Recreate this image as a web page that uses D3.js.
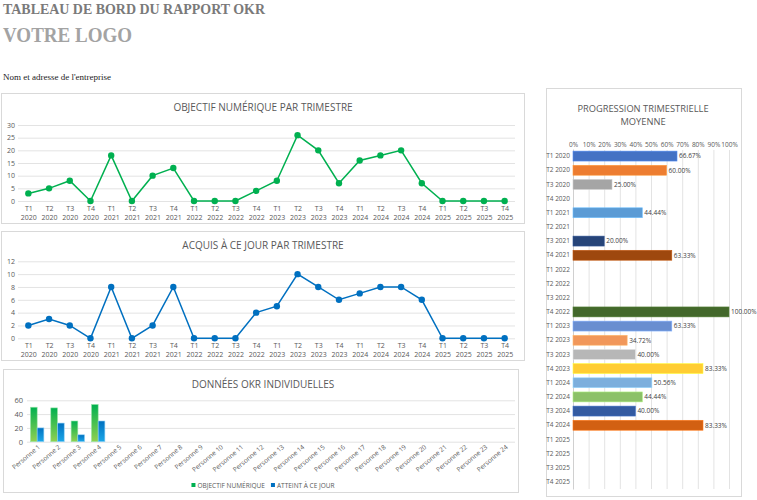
<!DOCTYPE html>
<html><head><meta charset="utf-8">
<script src="https://cdn.jsdelivr.net/npm/d3@7"></script>
<style>
body{margin:0;background:#fff;}
svg{display:block;}
text{font-family:"Open Sans",sans-serif;}
</style>
</head><body>
<svg id="c" width="757" height="500"></svg>
<script>
// ---------------- DATA ----------------
const quarters = ["T1 2020","T2 2020","T3 2020","T4 2020","T1 2021","T2 2021","T3 2021","T4 2021",
  "T1 2022","T2 2022","T3 2022","T4 2022","T1 2023","T2 2023","T3 2023","T4 2023",
  "T1 2024","T2 2024","T3 2024","T4 2024","T1 2025","T2 2025","T3 2025","T4 2025"];
const objectifNumerique = [3,5,8,0,18,0,10,13,0,0,0,4,8,26,20,7,16,18,20,7,0,0,0,0];
const acquisACeJour = [2,3,2,0,8,0,2,8,0,0,0,4,5,10,8,6,7,8,8,6,0,0,0,0];
const objTicks = [0,5,10,15,20,25,30];
const acqTicks = [0,2,4,6,8,10,12];

const personnes = d3.range(1,25).map(i => "Personne " + i);
const persObjectif = [50,49,30,54,0,0,0,0,0,0,0,0,0,0,0,0,0,0,0,0,0,0,0,0];
const persAtteint = [20,27,10,30,0,0,0,0,0,0,0,0,0,0,0,0,0,0,0,0,0,0,0,0];
const persTicks = [0,20,40,60];
const seriesNames = ["OBJECTIF NUMÉRIQUE","ATTEINT À CE JOUR"];

const progression = [66.67,60.00,25.00,null,44.44,null,20.00,63.33,null,null,null,100.00,
  63.33,34.72,40.00,83.33,50.56,44.44,40.00,83.33,null,null,null,null];
const pctTicks = [0,10,20,30,40,50,60,70,80,90,100];

// Excel office palette (cycled per category)
const barColors = ["#4472C4","#ED7D31","#A5A5A5","#FFC000","#5B9BD5","#70AD47","#264478","#9E480E",
  "#636363","#997300","#255E91","#43682B","#698ED0","#F1975A","#B7B7B7","#FFCD33",
  "#7CAFDD","#8CC168","#335AA1","#D26012","#A5A5A5","#FFC000","#5B9BD5","#70AD47"];

// ---------------- DRAW ----------------
const svg = d3.select("#c");
const txt = "#595959", grid = "#e3e3e3", border = "#d9d9d9";

// Header
svg.append("text").attr("x",3).attr("y",14).text("TABLEAU DE BORD DU RAPPORT OKR")
  .attr("textLength",262).attr("lengthAdjust","spacingAndGlyphs")
  .style("font-family","'Liberation Serif',serif").style("font-weight","bold")
  .style("font-size","15px").attr("fill","#7a7a7a");
svg.append("text").attr("x",3).attr("y",42).text("VOTRE LOGO")
  .attr("textLength",129).attr("lengthAdjust","spacingAndGlyphs")
  .style("font-family","'Liberation Serif',serif").style("font-weight","bold")
  .style("font-size","21px").attr("fill","#a3a3a3");
svg.append("text").attr("x",3).attr("y",80).text("Nom et adresse de l'entreprise")
  .style("font-family","'Liberation Serif',serif").style("font-size","9px").attr("fill","#222");

// panel boxes
function box(x,y,w,h){
  svg.append("rect").attr("x",x+0.5).attr("y",y+0.5).attr("width",w).attr("height",h)
    .attr("fill","#fff").attr("stroke",border).attr("stroke-width",1);
}
box(1,93,523,130);
box(1,231,523,129);
box(3,369,515,123);
box(546,88,195,408);

function title(x,y,t,size){
  svg.append("text").attr("x",x).attr("y",y).attr("text-anchor","middle")
    .style("font-size",(size||10)+"px").attr("fill",txt).text(t);
}

// Line charts
const xPt = d3.scalePoint().domain(quarters).range([18,515]).padding(0.5);

function lineChart(cfg){
  title(263,cfg.titleY,cfg.title);
  const y = d3.scaleLinear().domain([cfg.ticks[0],cfg.ticks[cfg.ticks.length-1]]).range(cfg.yRange);
  const g = svg.append("g").attr("transform","translate(18,0)");
  g.call(d3.axisLeft(y).tickValues(cfg.ticks).tickSize(-497).tickPadding(3));
  g.select(".domain").remove();
  g.selectAll(".tick line").attr("stroke",grid);
  g.selectAll(".tick text").attr("fill",txt).style("font-size","7px").style("font-family","'Open Sans',sans-serif");
  const gx = svg.append("g").attr("transform",`translate(0,${cfg.yRange[0]})`);
  gx.call(d3.axisBottom(xPt).tickSize(0).tickPadding(0));
  gx.select(".domain").remove();
  gx.selectAll(".tick text").each(function(d){
    const t = d3.select(this).text(null).attr("fill",txt).style("font-size","7px")
      .style("font-family","'Open Sans',sans-serif").attr("y",0).attr("dy",null);
    const p = d.split(" ");
    t.append("tspan").attr("x",0).attr("y",cfg.lab1).text(p[0]);
    t.append("tspan").attr("x",0).attr("y",cfg.lab2).text(p[1]);
  });
  const line = d3.line().x((d,i)=>xPt(quarters[i])).y(d=>y(d));
  svg.append("path").datum(cfg.values).attr("d",line).attr("fill","none")
    .attr("stroke",cfg.color).attr("stroke-width",1.5);
  svg.append("g").selectAll("circle").data(cfg.values).join("circle")
    .attr("cx",(d,i)=>xPt(quarters[i])).attr("cy",d=>y(d)).attr("r",3.2).attr("fill",cfg.color);
}
lineChart({title:"OBJECTIF NUMÉRIQUE PAR TRIMESTRE",titleY:111,ticks:objTicks,yRange:[201,125],
  values:objectifNumerique,color:"#00B050",lab1:10,lab2:19});
lineChart({title:"ACQUIS À CE JOUR PAR TRIMESTRE",titleY:249,ticks:acqTicks,yRange:[338.3,261.3],
  values:acquisACeJour,color:"#0070C0",lab1:10,lab2:19});

// Individual bars
title(263,388,"DONNÉES OKR INDIVIDUELLES");
const defs = svg.append("defs");
function grad(id,top,bot){
  const lg = defs.append("linearGradient").attr("id",id).attr("x1",0).attr("y1",0).attr("x2",0).attr("y2",1);
  lg.append("stop").attr("offset","0%").attr("stop-color",top);
  lg.append("stop").attr("offset","100%").attr("stop-color",bot);
}
grad("gG","#00B050","#92D050");
grad("gB","#0070C0","#1AA7E8");
const xb = d3.scaleBand().domain(personnes).range([27,515]);
const xs = d3.scaleBand().domain(seriesNames).range([xb.bandwidth()*0.17, xb.bandwidth()*0.83]);
const yb = d3.scaleLinear().domain([0,60]).range([441.7,400.3]);
const gb = svg.append("g").attr("transform","translate(27,0)");
gb.call(d3.axisLeft(yb).tickValues(persTicks).tickSize(-488).tickPadding(4));
gb.select(".domain").remove();
gb.selectAll(".tick line").attr("stroke",grid);
gb.selectAll(".tick text").attr("fill",txt).style("font-size","7.5px").style("font-family","'Open Sans',sans-serif");
const seriesData = [persObjectif, persAtteint];
const fills = ["url(#gG)","url(#gB)"];
const strokes = ["#9be6a8","#8fd0f5"];
seriesData.forEach((vals,si)=>{
  svg.append("g").selectAll("rect").data(vals.map((v,i)=>({v,p:personnes[i]})).filter(d=>d.v>0)).join("rect")
    .attr("x",d=>xb(d.p)+xs(seriesNames[si])).attr("width",xs.bandwidth())
    .attr("y",d=>yb(d.v)).attr("height",d=>yb(0)-yb(d.v))
    .attr("fill",fills[si]).attr("stroke",strokes[si]).attr("stroke-width",0.6);
});
svg.append("g").selectAll("text").data(personnes).join("text")
  .attr("transform",d=>`translate(${xb(d)+xb.bandwidth()/2+2},446) rotate(-40)`)
  .attr("text-anchor","end").attr("dy","0.35em").style("font-size","6.5px").attr("fill",txt).text(d=>d);
// legend
const lgG = svg.append("g");
let lx = 0;
const legColors = ["#00B050","#0070C0"];
seriesNames.forEach((n,i)=>{
  lgG.append("rect").attr("x",lx).attr("y",-2.5).attr("width",4).attr("height",4).attr("fill",legColors[i]);
  const t = lgG.append("text").attr("x",lx+6).attr("y",0).attr("dy","0.35em")
    .style("font-size","6.5px").attr("fill",txt).text(n);
  lx += 6 + t.node().getComputedTextLength() + 6;
});
lgG.attr("transform",`translate(${263-(lx-6)/2},485.5)`);

// Progression chart
svg.append("text").attr("x",643).attr("y",111.5).attr("text-anchor","middle")
  .style("font-size","9.3px").attr("fill",txt).text("PROGRESSION TRIMESTRIELLE");
svg.append("text").attr("x",643).attr("y",124.5).attr("text-anchor","middle")
  .style("font-size","9.3px").attr("fill",txt).text("MOYENNE");
const xp = d3.scaleLinear().domain([0,100]).range([573,729]);
const yp = d3.scaleBand().domain(quarters).range([149,489]).paddingInner(0.3).paddingOuter(0.15);
const gpx = svg.append("g").attr("transform","translate(0,150)");
gpx.call(d3.axisTop(xp).tickValues(pctTicks).tickFormat(d=>d+"%").tickSize(-339).tickPadding(3));
gpx.select(".domain").remove();
gpx.selectAll(".tick line").attr("stroke",grid);
gpx.selectAll(".tick text").attr("fill",txt).style("font-size","6.5px").style("font-family","'Open Sans',sans-serif");
const gpy = svg.append("g").attr("transform","translate(573,0)");
gpy.call(d3.axisLeft(yp).tickSize(0).tickPadding(3));
gpy.select(".domain").attr("stroke","#d0d0d0");
gpy.selectAll(".tick text").attr("fill",txt).style("font-size","6.5px").style("font-family","'Open Sans',sans-serif");
const pd = progression.map((v,i)=>({v,q:quarters[i],c:barColors[i]})).filter(d=>d.v!=null);
svg.append("g").selectAll("rect").data(pd).join("rect")
  .attr("x",xp(0)).attr("y",d=>yp(d.q)).attr("width",d=>xp(d.v)-xp(0)).attr("height",yp.bandwidth())
  .attr("fill",d=>d.c).attr("stroke",d=>d3.color(d.c).brighter(0.6)).attr("stroke-width",0.6);
svg.append("g").selectAll("text").data(pd).join("text")
  .attr("x",d=>xp(d.v)+2).attr("y",d=>yp(d.q)+yp.bandwidth()/2).attr("dy","0.35em")
  .style("font-size","6.5px").attr("fill","#404040").text(d=>d.v.toFixed(2)+"%");
</script>
</body></html>
